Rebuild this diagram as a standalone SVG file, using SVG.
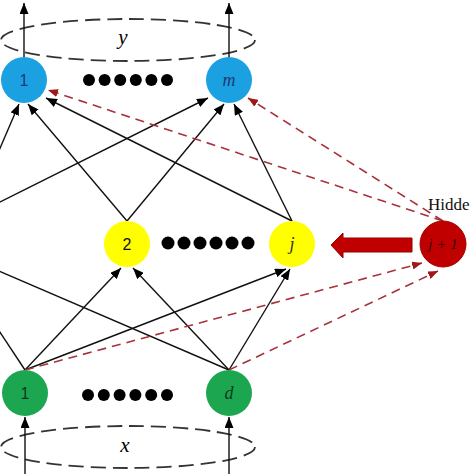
<svg xmlns="http://www.w3.org/2000/svg" width="474" height="474" viewBox="0 0 474 474">
<defs>
<marker id="ab" markerUnits="userSpaceOnUse" markerWidth="11" markerHeight="9" refX="11" refY="4.5" orient="auto"><path d="M0,0 L11,4.5 L0,9 z" fill="#000"/></marker>
<marker id="ar" markerUnits="userSpaceOnUse" markerWidth="10" markerHeight="8" refX="10" refY="4" orient="auto"><path d="M0,0 L10,4 L0,8 z" fill="#A01818"/></marker>
<style>
.ln{stroke:#111;stroke-width:1.4;fill:none}
.ar{marker-end:url(#ab)}
.rd{stroke:#A8323C;stroke-width:1.6;stroke-dasharray:9 6;fill:none;marker-end:url(#ar)}
.el{fill:none;stroke:#333;stroke-width:1.8;stroke-dasharray:15 7}
.dot{fill:#000}
.sans{font-family:"Liberation Sans",Arial,sans-serif;font-size:16px;text-anchor:middle}
.ser{font-family:"Liberation Serif","Times New Roman",serif;font-style:italic;text-anchor:middle}
</style>
</defs>
<g id="ellipses">
<ellipse class="el" cx="128" cy="40" rx="127" ry="21"/>
<ellipse class="el" cx="128" cy="447" rx="127" ry="21"/>
<text class="ser" x="123" y="44" font-size="21">y</text>
<text class="ser" x="125" y="452" font-size="21">x</text>
</g>
<g id="connectors">
<line class="ln ar" x1="24" y1="57" x2="24" y2="3"/>
<line class="ln ar" x1="229" y1="57" x2="229" y2="3"/>
<line class="ln ar" x1="25" y1="474" x2="25" y2="417"/>
<line class="ln ar" x1="229" y1="474" x2="229" y2="417"/>
<line class="ln ar" x1="-20" y1="195" x2="19" y2="104"/>
<line class="ln ar" x1="127" y1="221" x2="28" y2="104"/>
<line class="ln ar" x1="292" y1="221" x2="46" y2="98"/>
<line class="ln ar" x1="-20" y1="212" x2="208" y2="98"/>
<line class="ln ar" x1="127" y1="221" x2="224" y2="104"/>
<line class="ln ar" x1="292" y1="221" x2="234" y2="104"/>
<line class="ln" x1="25" y1="370" x2="-20" y2="302"/>
<line class="ln ar" x1="25" y1="370" x2="121" y2="268"/>
<line class="ln ar" x1="25" y1="370" x2="286" y2="269"/>
<line class="ln" x1="229" y1="370" x2="-20" y2="263"/>
<line class="ln ar" x1="229" y1="370" x2="133" y2="268"/>
<line class="ln ar" x1="229" y1="370" x2="290" y2="269"/>
<line class="rd" x1="443" y1="221" x2="48" y2="90"/>
<line class="rd" x1="443" y1="221" x2="248" y2="98"/>
<line class="rd" x1="25" y1="370" x2="422" y2="263"/>
<line class="rd" x1="229" y1="370" x2="438" y2="271"/>
<polygon points="412,238 343,238 343,233 331,245 343,258 343,252 412,252" fill="#C00000" stroke="#9A0000" stroke-width="1"/>
</g>
<g id="out1"><circle cx="24" cy="80" r="23" fill="#1BA1E2"/><text class="sans" x="24" y="86" fill="#1F3A70">1</text></g>
<g id="outm"><circle cx="229" cy="80" r="23" fill="#1BA1E2"/><text class="ser" x="229" y="86" font-size="18" fill="#1F3A70">m</text></g>
<g id="outdots"><circle class="dot" cx="89" cy="80" r="6"/><circle class="dot" cx="104.6" cy="80" r="6"/><circle class="dot" cx="120.2" cy="80" r="6"/><circle class="dot" cx="135.8" cy="80" r="6"/><circle class="dot" cx="151.4" cy="80" r="6"/><circle class="dot" cx="167" cy="80" r="6"/></g>
<g id="hid2"><circle cx="127" cy="244" r="23" fill="#FFFF00"/><text class="sans" x="127" y="250" fill="#111">2</text></g>
<g id="hidj"><circle cx="292" cy="244" r="23" fill="#FFFF00"/><text class="ser" x="292" y="250" font-size="18" fill="#333">j</text></g>
<g id="hiddots"><circle class="dot" cx="168" cy="243" r="6.5"/><circle class="dot" cx="184" cy="243" r="6.5"/><circle class="dot" cx="200" cy="243" r="6.5"/><circle class="dot" cx="216" cy="243" r="6.5"/><circle class="dot" cx="232" cy="243" r="6.5"/><circle class="dot" cx="248" cy="243" r="6.5"/></g>
<g id="hidj1"><circle cx="443" cy="244" r="23" fill="#C00000" stroke="#A00000" stroke-width="1"/><text class="ser" x="443" y="249" font-size="15" fill="#3A0000">j + 1</text></g>
<g id="label"><text x="428" y="210" font-family="'Liberation Serif','Times New Roman',serif" font-size="17" fill="#111">Hidde</text></g>
<g id="in1"><circle cx="25" cy="393" r="23" fill="#1DA650"/><text class="sans" x="25" y="399" fill="#0B3B1E">1</text></g>
<g id="ind"><circle cx="229" cy="393" r="23" fill="#1DA650"/><text class="ser" x="229" y="399" font-size="18" fill="#0B3B1E">d</text></g>
<g id="indots"><circle class="dot" cx="88" cy="395" r="6"/><circle class="dot" cx="103.8" cy="395" r="6"/><circle class="dot" cx="119.6" cy="395" r="6"/><circle class="dot" cx="135.4" cy="395" r="6"/><circle class="dot" cx="151.2" cy="395" r="6"/><circle class="dot" cx="167" cy="395" r="6"/></g>
</svg>
